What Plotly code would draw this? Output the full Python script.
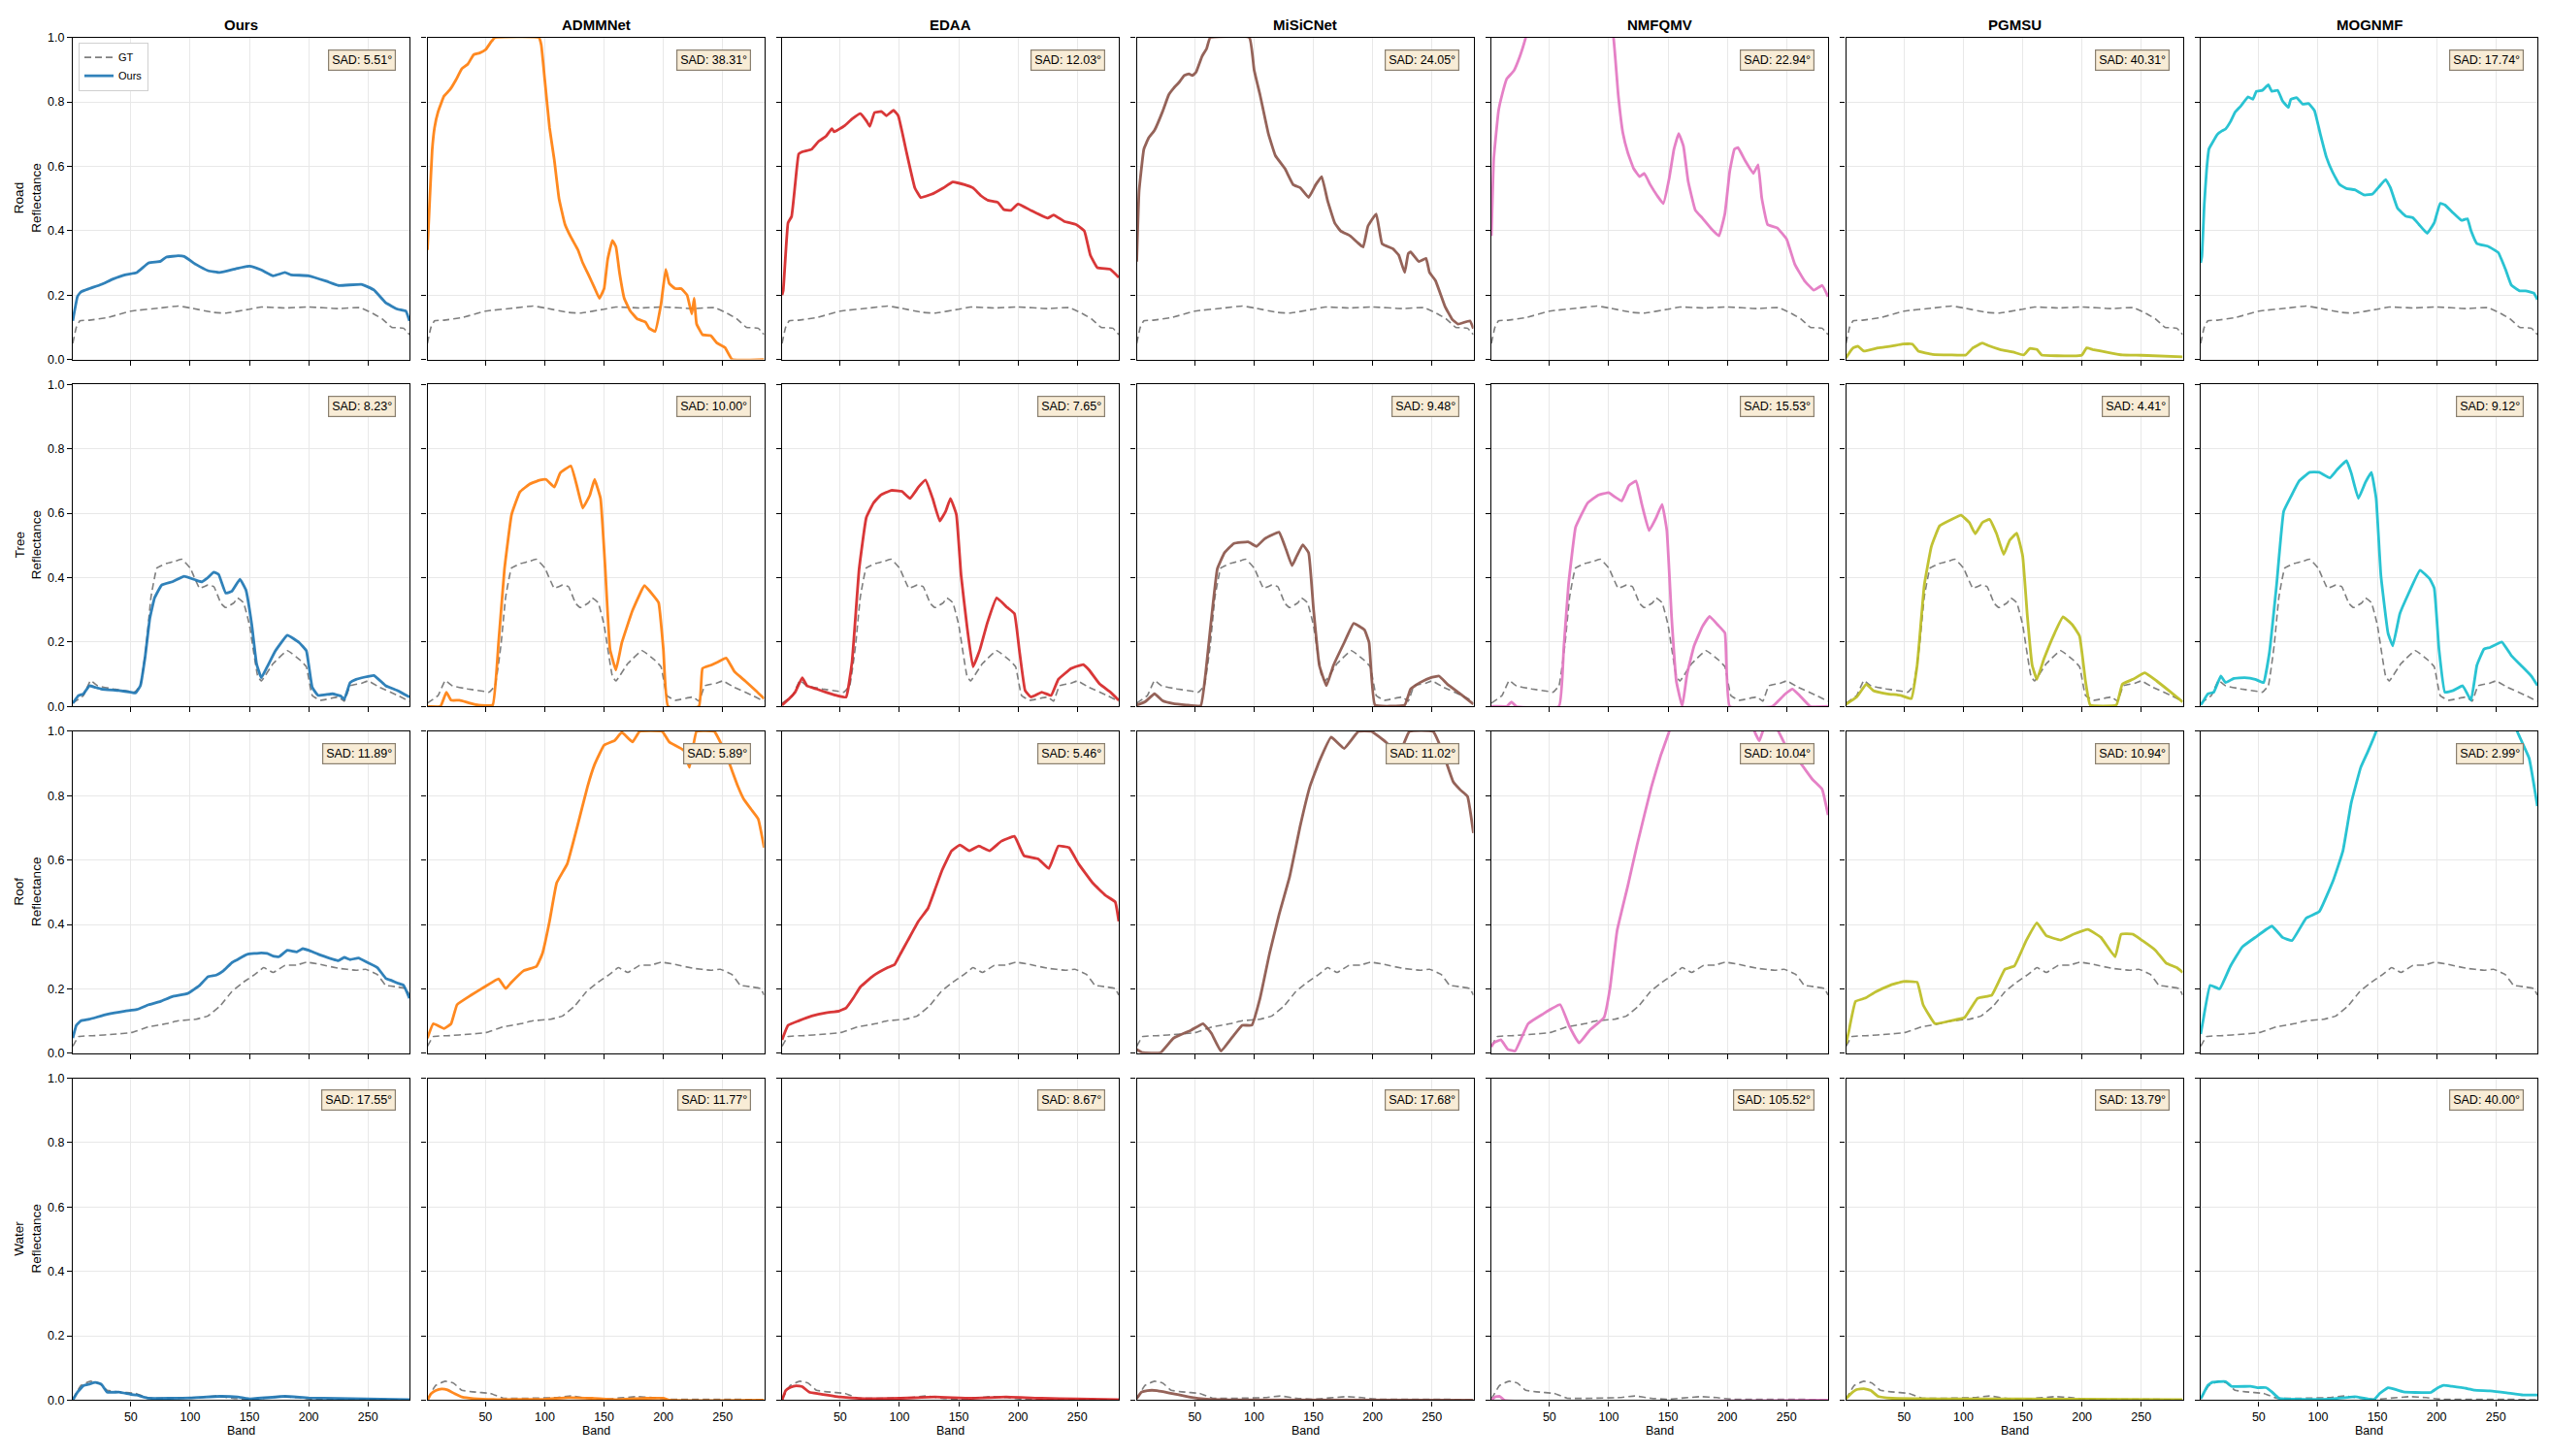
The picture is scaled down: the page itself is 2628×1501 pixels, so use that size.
import plotly.graph_objects as go

W, H = 2628, 1501

METHODS = ["Ours", "ADMMNet", "EDAA", "MiSiCNet", "NMFQMV", "PGMSU", "MOGNMF"]
MATERIALS = ["Road", "Tree", "Roof", "Water"]
COLORS = ["#1f77b4", "#ff7f0e", "#d62728", "#8c564b", "#e377c2", "#bcbd22", "#17becf"]

SAD_ROAD = [5.51, 38.31, 12.03, 24.05, 22.94, 40.31, 17.74]
SAD_TREE = [8.23, 10.00, 7.65, 9.48, 15.53, 4.41, 9.12]
SAD_ROOF = [11.89, 5.89, 5.46, 11.02, 10.04, 10.94, 2.99]
SAD_WATER = [17.55, 11.77, 8.67, 17.68, 105.52, 13.79, 40.00]

X_TICKS = [50, 100, 150, 200, 250]
Y_TICKS = [0.0, 0.2, 0.4, 0.6, 0.8, 1.0]

# ---- ground truth spectra: (band, reflectance) ----
GT_ROAD = [(1,0.05),(4,0.10),(7,0.12),(15,0.122),(30,0.13),(50,0.15),(75,0.16),(90,0.166),(100,0.16),(120,0.146),(130,0.144),(150,0.156),(160,0.163),(180,0.16),(200,0.163),(225,0.158),(243,0.161),(255,0.141),(262,0.126),(270,0.10),(280,0.097),(285,0.077)]
GT_TREE = [(1,0.01),(10,0.034),(16,0.08),(22,0.064),(35,0.054),(50,0.046),(53,0.044),(58,0.064),(63,0.19),(67,0.34),(72,0.43),(80,0.444),(88,0.452),(93,0.457),(100,0.43),(108,0.367),(115,0.377),(120,0.372),(126,0.32),(130,0.307),(137,0.322),(140,0.337),(145,0.322),(150,0.253),(157,0.094),(160,0.079),(170,0.133),(182,0.173),(193,0.143),(198,0.123),(203,0.034),(210,0.019),(225,0.029),(230,0.016),(235,0.064),(245,0.072),(250,0.079),(260,0.059),(275,0.034),(285,0.016)]
GT_ROOF = [(1,0.022),(6,0.052),(20,0.055),(35,0.059),(50,0.064),(65,0.082),(80,0.092),(90,0.101),(105,0.106),(115,0.116),(125,0.146),(135,0.191),(145,0.221),(155,0.246),(162,0.266),(170,0.251),(180,0.273),(190,0.274),(198,0.283),(210,0.276),(225,0.264),(240,0.258),(248,0.261),(258,0.244),(265,0.211),(275,0.206),(282,0.201),(285,0.181)]
GT_WATER = [(1,0.004),(8,0.046),(16,0.059),(23,0.053),(30,0.031),(39,0.026),(54,0.021),(65,0.006),(109,0.008),(122,0.013),(136,0.006),(150,0.003),(177,0.011),(191,0.008),(204,0.003),(259,0.003),(285,0.001)]

# ---- estimated spectra: (band, reflectance) ----
OURS_ROAD = [(1,0.12),(5,0.196),(8,0.21),(15,0.22),(25,0.233),(35,0.25),(45,0.263),(55,0.27),(65,0.30),(75,0.305),(80,0.318),(90,0.322),(95,0.32),(105,0.295),(115,0.276),(125,0.27),(140,0.283),(150,0.29),(160,0.278),(170,0.26),(180,0.27),(185,0.263),(200,0.26),(215,0.243),(225,0.23),(245,0.233),(255,0.216),(265,0.176),(275,0.156),(282,0.15),(285,0.12)]
OURS_TREE = [(1,0.01),(6,0.034),(10,0.039),(15,0.064),(20,0.059),(25,0.054),(40,0.049),(50,0.044),(54,0.042),(58,0.064),(62,0.153),(66,0.273),(70,0.337),(76,0.377),(85,0.387),(95,0.404),(105,0.392),(110,0.387),(114,0.397),(120,0.417),(124,0.41),(130,0.352),(135,0.357),(142,0.395),(147,0.362),(152,0.253),(156,0.133),(160,0.089),(165,0.123),(172,0.173),(182,0.221),(192,0.198),(198,0.173),(203,0.059),(208,0.034),(220,0.039),(227,0.032),(230,0.022),(235,0.074),(240,0.084),(255,0.096),(265,0.064),(275,0.049),(285,0.029)]
OURS_ROOF = [(1,0.047),(4,0.087),(8,0.101),(15,0.106),(30,0.121),(45,0.131),(55,0.136),(65,0.151),(75,0.161),(85,0.176),(98,0.186),(108,0.211),(115,0.238),(122,0.243),(128,0.256),(135,0.281),(140,0.291),(148,0.307),(160,0.312),(165,0.31),(170,0.302),(175,0.3),(182,0.32),(190,0.315),(195,0.325),(200,0.32),(210,0.305),(225,0.288),(230,0.298),(235,0.291),(242,0.296),(250,0.281),(258,0.266),(265,0.233),(270,0.226),(275,0.218),(280,0.211),(285,0.171)]
OURS_WATER = [(1,0.0),(5,0.025),(10,0.045),(15,0.05),(20,0.055),(25,0.05),(30,0.025),(40,0.025),(50,0.018),(55,0.016),(65,0.006),(100,0.007),(125,0.012),(140,0.01),(150,0.004),(180,0.012),(200,0.007),(285,0.002)]

ADMM_ROAD = [(1,0.34),(3,0.5),(5,0.65),(7,0.72),(10,0.77),(15,0.818),(20,0.838),(25,0.868),(30,0.903),(35,0.917),(40,0.947),(45,0.952),(50,0.962),(55,0.988),(58,1.0),(95,1.0),(97,0.977),(100,0.868),(104,0.72),(108,0.62),(112,0.5),(117,0.42),(122,0.38),(128,0.34),(132,0.30),(137,0.262),(142,0.222),(146,0.19),(150,0.22),(153,0.31),(157,0.37),(160,0.35),(163,0.27),(167,0.19),(172,0.151),(178,0.126),(185,0.116),(188,0.097),(193,0.087),(198,0.171),(202,0.28),(205,0.236),(210,0.22),(215,0.22),(220,0.2),(224,0.141),(226,0.19),(228,0.111),(233,0.077),(240,0.074),(245,0.052),(252,0.037),(258,0.0),(285,0.0)]
ADMM_TREE = [(1,0.0),(12,0.0),(17,0.044),(21,0.019),(28,0.019),(36,0.011),(44,0.004),(56,0.004),(61,0.198),(66,0.427),(72,0.596),(79,0.666),(87,0.69),(96,0.703),(101,0.705),(108,0.681),(113,0.725),(122,0.747),(127,0.686),(132,0.616),(138,0.656),(142,0.705),(147,0.646),(151,0.427),(155,0.178),(160,0.113),(165,0.198),(174,0.298),(184,0.375),(191,0.347),(196,0.322),(200,0.178),(204,0.0),(230,0.0),(233,0.118),(240,0.128),(246,0.138),(253,0.15),(260,0.108),(269,0.079),(278,0.049),(285,0.024)]
ADMM_ROOF = [(1,0.047),(6,0.092),(15,0.077),(21,0.092),(26,0.151),(38,0.181),(49,0.206),(61,0.231),(67,0.201),(72,0.221),(82,0.256),(93,0.27),(98,0.31),(104,0.41),(110,0.529),(119,0.589),(127,0.698),(136,0.828),(142,0.897),(150,0.957),(159,0.972),(165,0.997),(174,0.967),(180,1.0),(199,1.0),(205,0.967),(217,0.942),(222,0.888),(228,1.0),(243,1.0),(248,0.967),(255,0.907),(263,0.828),(268,0.788),(274,0.758),(280,0.728),(285,0.639)]
ADMM_WATER = [(1,0.0),(4,0.02),(8,0.03),(13,0.035),(18,0.032),(24,0.02),(30,0.01),(40,0.005),(60,0.002),(100,0.003),(120,0.008),(140,0.006),(160,0.002),(185,0.006),(200,0.006),(205,0.0),(285,0.0)]

EDAA_ROAD = [(1,0.2),(2,0.215),(6,0.424),(9,0.444),(12,0.543),(15,0.638),(18,0.645),(26,0.653),(32,0.678),(38,0.693),(43,0.717),(45,0.707),(54,0.727),(60,0.747),(67,0.764),(72,0.742),(75,0.724),(79,0.767),(85,0.77),(89,0.757),(95,0.774),(99,0.757),(106,0.643),(113,0.533),(118,0.503),(127,0.513),(137,0.533),(145,0.551),(155,0.543),(162,0.533),(169,0.508),(175,0.494),(183,0.488),(188,0.466),(194,0.463),(200,0.483),(211,0.463),(225,0.439),(230,0.449),(239,0.429),(249,0.419),(256,0.399),(261,0.324),(267,0.285),(278,0.28),(285,0.255)]
EDAA_TREE = [(1,0.004),(7,0.024),(12,0.044),(18,0.089),(22,0.064),(30,0.054),(38,0.044),(47,0.034),(55,0.029),(60,0.138),(66,0.427),(72,0.586),(78,0.631),(84,0.656),(93,0.671),(102,0.668),(109,0.646),(116,0.681),(122,0.703),(128,0.646),(134,0.576),(139,0.606),(143,0.646),(148,0.596),(152,0.407),(157,0.248),(162,0.123),(168,0.178),(174,0.258),(182,0.337),(191,0.307),(197,0.288),(201,0.178),(206,0.049),(211,0.029),(220,0.044),(228,0.034),(234,0.084),(245,0.118),(255,0.13),(260,0.113),(269,0.069),(278,0.044),(285,0.019)]
EDAA_ROOF = [(1,0.042),(6,0.087),(15,0.101),(26,0.116),(38,0.126),(49,0.131),(55,0.141),(61,0.171),(67,0.206),(78,0.241),(90,0.266),(96,0.276),(101,0.31),(107,0.35),(116,0.41),(124,0.45),(130,0.509),(136,0.569),(144,0.629),(151,0.647),(159,0.629),(167,0.644),(176,0.629),(186,0.659),(197,0.674),(205,0.614),(217,0.604),(226,0.574),(234,0.644),(243,0.639),(251,0.589),(263,0.529),(274,0.49),(282,0.47),(285,0.41)]
EDAA_WATER = [(1,0.0),(4,0.03),(8,0.04),(13,0.045),(18,0.042),(24,0.025),(32,0.02),(50,0.01),(70,0.005),(100,0.006),(130,0.01),(160,0.006),(190,0.01),(220,0.006),(250,0.004),(285,0.002)]

MISIC_ROAD = [(1,0.304),(3,0.523),(7,0.653),(11,0.688),(16,0.712),(23,0.772),(28,0.822),(32,0.842),(37,0.862),(41,0.882),(45,0.887),(48,0.882),(51,0.892),(56,0.941),(60,0.966),(63,1.0),(96,1.0),(100,0.9),(105,0.822),(112,0.702),(118,0.633),(126,0.593),(133,0.543),(139,0.533),(146,0.503),(152,0.543),(157,0.568),(162,0.493),(168,0.424),(173,0.399),(181,0.384),(187,0.364),(192,0.349),(196,0.414),(203,0.452),(208,0.359),(217,0.344),(222,0.324),(227,0.27),(230,0.329),(232,0.334),(239,0.304),(245,0.314),(248,0.27),(253,0.245),(261,0.165),(267,0.125),(272,0.11),(282,0.12),(285,0.096)]
MISIC_TREE = [(1,0.004),(8,0.014),(16,0.039),(23,0.017),(31,0.009),(43,0.004),(55,0.002),(59,0.099),(63,0.238),(69,0.427),(75,0.477),(83,0.506),(95,0.511),(102,0.497),(109,0.521),(121,0.541),(127,0.487),(132,0.437),(136,0.467),(141,0.502),(146,0.477),(150,0.307),(155,0.128),(161,0.064),(167,0.128),(176,0.198),(184,0.258),(193,0.238),(197,0.198),(202,0.004),(227,0.004),(232,0.054),(240,0.074),(249,0.089),(256,0.094),(263,0.069),(274,0.039),(285,0.007)]
MISIC_ROOF = [(1,0.012),(6,0.002),(21,0.002),(32,0.047),(47,0.072),(57,0.092),(64,0.062),(72,0.007),(82,0.052),(90,0.087),(98,0.087),(105,0.171),(113,0.31),(121,0.43),(130,0.549),(139,0.708),(147,0.828),(155,0.907),(165,0.982),(176,0.947),(188,1.0),(199,1.0),(211,0.967),(222,0.927),(231,1.0),(251,1.0),(259,0.937),(268,0.843),(274,0.818),(280,0.798),(285,0.684)]
MISIC_WATER = [(1,0.005),(5,0.025),(10,0.03),(18,0.03),(25,0.025),(32,0.02),(45,0.01),(60,0.003),(80,0.001),(285,0.0)]

NMF_ROAD = [(1,0.384),(3,0.623),(7,0.772),(10,0.822),(14,0.872),(20,0.897),(25,0.941),(30,1.0),(40,1.15),(55,1.3),(70,1.35),(85,1.3),(98,1.1),(104,1.0),(108,0.822),(112,0.702),(116,0.643),(121,0.593),(126,0.568),(130,0.578),(135,0.543),(141,0.508),(146,0.484),(151,0.563),(155,0.653),(159,0.702),(163,0.663),(167,0.553),(173,0.464),(179,0.439),(187,0.404),(193,0.384),(198,0.454),(202,0.583),(206,0.653),(209,0.658),(215,0.618),(222,0.578),(226,0.605),(229,0.503),(234,0.419),(242,0.409),(250,0.374),(257,0.295),(265,0.245),(273,0.215),(280,0.23),(285,0.195)]
NMF_TREE = [(1,0.0),(7,0.0),(14,0.0),(18,0.014),(22,0.0),(58,0.0),(62,0.178),(66,0.377),(72,0.556),(77,0.596),(82,0.631),(91,0.656),(100,0.664),(105,0.651),(111,0.638),(117,0.686),(123,0.7),(128,0.626),(134,0.546),(140,0.586),(145,0.628),(149,0.546),(153,0.278),(157,0.078),(162,0.0),(166,0.099),(172,0.188),(179,0.248),(185,0.28),(192,0.253),(198,0.228),(202,0.0),(238,0.0),(243,0.017),(249,0.039),(255,0.054),(261,0.034),(270,0.0),(285,0.0)]
NMF_ROOF = [(1,0.02),(3,0.032),(9,0.042),(15,0.012),(21,0.007),(32,0.092),(44,0.121),(59,0.151),(67,0.082),(75,0.032),(84,0.072),(96,0.111),(101,0.201),(107,0.38),(116,0.519),(124,0.649),(136,0.828),(144,0.927),(151,1.0),(165,1.25),(185,1.45),(205,1.35),(218,1.1),(223,1.0),(227,0.97),(232,1.02),(240,1.02),(250,0.95),(262,0.9),(272,0.85),(280,0.82),(285,0.74)]
NMF_WATER = [(1,0.0),(4,0.01),(8,0.012),(12,0.0),(285,0.0)]

PGMSU_ROAD = [(1,0.005),(2,0.011),(7,0.036),(11,0.041),(16,0.026),(28,0.036),(39,0.041),(49,0.048),(57,0.048),(62,0.026),(74,0.016),(89,0.014),(102,0.014),(108,0.036),(116,0.051),(121,0.043),(131,0.031),(142,0.023),(151,0.014),(156,0.034),(162,0.031),(166,0.014),(192,0.011),(200,0.014),(204,0.036),(209,0.031),(223,0.021),(234,0.014),(250,0.013),(285,0.008)]
PGMSU_TREE = [(1,0.005),(2,0.009),(10,0.029),(18,0.069),(24,0.049),(36,0.039),(47,0.034),(56,0.024),(61,0.128),(67,0.377),(73,0.497),(80,0.561),(90,0.581),(98,0.594),(105,0.571),(110,0.536),(116,0.571),(122,0.581),(128,0.536),(134,0.472),(139,0.516),(145,0.538),(150,0.467),(154,0.278),(158,0.128),(162,0.084),(168,0.148),(177,0.228),(184,0.278),(192,0.253),(198,0.218),(203,0.078),(207,0.004),(229,0.004),(234,0.069),(243,0.084),(253,0.104),(263,0.079),(275,0.044),(285,0.014)]
PGMSU_ROOF = [(1,0.03),(3,0.062),(9,0.161),(17,0.171),(26,0.191),(38,0.211),(49,0.223),(61,0.221),(66,0.151),(76,0.092),(89,0.101),(101,0.111),(112,0.171),(124,0.181),(135,0.261),(143,0.271),(153,0.35),(162,0.405),(170,0.365),(182,0.352),(193,0.37),(205,0.385),(216,0.36),(228,0.3),(233,0.37),(243,0.37),(251,0.35),(262,0.32),(271,0.28),(280,0.266),(285,0.251)]
PGMSU_WATER = [(1,0.005),(5,0.02),(10,0.033),(16,0.036),(22,0.03),(28,0.012),(40,0.006),(80,0.004),(150,0.004),(200,0.003),(285,0.002)]

MOG_ROAD = [(1,0.3),(2,0.32),(4,0.48),(6,0.589),(8,0.654),(11,0.674),(15,0.699),(19,0.71),(22,0.716),(26,0.738),(30,0.768),(35,0.788),(41,0.816),(45,0.808),(48,0.833),(53,0.836),(58,0.853),(61,0.833),(66,0.836),(70,0.803),(75,0.783),(77,0.808),(82,0.813),(87,0.793),(92,0.795),(97,0.773),(102,0.699),(107,0.629),(112,0.584),(118,0.544),(124,0.531),(131,0.527),(139,0.511),(146,0.514),(152,0.539),(157,0.559),(161,0.534),(167,0.47),(174,0.445),(180,0.44),(185,0.42),(192,0.392),(198,0.425),(203,0.485),(207,0.48),(214,0.455),(221,0.432),(226,0.437),(229,0.4),(234,0.36),(243,0.352),(252,0.332),(258,0.281),(263,0.231),(270,0.213),(275,0.213),(282,0.206),(285,0.186)]
MOG_TREE = [(1,0.005),(2,0.009),(7,0.039),(12,0.044),(18,0.094),(22,0.074),(29,0.087),(38,0.089),(47,0.084),(54,0.074),(59,0.168),(65,0.377),(71,0.606),(77,0.651),(84,0.7),(93,0.727),(101,0.727),(110,0.71),(116,0.735),(124,0.763),(128,0.725),(134,0.646),(140,0.696),(145,0.727),(149,0.646),(153,0.407),(159,0.228),(163,0.188),(169,0.288),(176,0.348),(186,0.423),(194,0.397),(198,0.367),(202,0.178),(207,0.044),(214,0.049),(222,0.064),(229,0.019),(234,0.128),(240,0.178),(245,0.183),(255,0.2),(263,0.158),(271,0.128),(280,0.094),(285,0.065)]
MOG_ROOF = [(1,0.06),(3,0.101),(9,0.211),(17,0.2),(26,0.27),(36,0.33),(47,0.36),(61,0.395),(70,0.36),(78,0.35),(90,0.42),(101,0.44),(113,0.539),(121,0.629),(128,0.778),(136,0.888),(142,0.937),(149,1.0),(165,1.3),(190,1.6),(215,1.6),(240,1.4),(260,1.1),(268,1.0),(278,0.917),(285,0.768)]
MOG_WATER = [(1,0.005),(2,0.011),(7,0.046),(11,0.056),(22,0.058),(27,0.043),(43,0.043),(49,0.039),(56,0.039),(61,0.026),(67,0.006),(82,0.003),(109,0.003),(131,0.011),(147,0.001),(152,0.021),(159,0.039),(163,0.036),(172,0.026),(182,0.024),(195,0.024),(200,0.036),(206,0.046),(213,0.043),(226,0.036),(232,0.031),(245,0.029),(259,0.023),(273,0.016),(285,0.016)]

GT = {"Road": GT_ROAD, "Tree": GT_TREE, "Roof": GT_ROOF, "Water": GT_WATER}
EST = {
    "Ours": [OURS_ROAD, OURS_TREE, OURS_ROOF, OURS_WATER],
    "ADMMNet": [ADMM_ROAD, ADMM_TREE, ADMM_ROOF, ADMM_WATER],
    "EDAA": [EDAA_ROAD, EDAA_TREE, EDAA_ROOF, EDAA_WATER],
    "MiSiCNet": [MISIC_ROAD, MISIC_TREE, MISIC_ROOF, MISIC_WATER],
    "NMFQMV": [NMF_ROAD, NMF_TREE, NMF_ROOF, NMF_WATER],
    "PGMSU": [PGMSU_ROAD, PGMSU_TREE, PGMSU_ROOF, PGMSU_WATER],
    "MOGNMF": [MOG_ROAD, MOG_TREE, MOG_ROOF, MOG_WATER],
}
SAD = [SAD_ROAD, SAD_TREE, SAD_ROOF, SAD_WATER]

FONT = "Liberation Sans, Arial, sans-serif"

# ---- layout geometry in pixels ----
LEFT0, COL_PITCH, PW = 75, 365.5, 347
TOP0, ROW_PITCH, PH = 32, 361, 335

fig = go.Figure()
layout = dict(
    width=W, height=H,
    margin=dict(l=0, r=0, t=0, b=0),
    paper_bgcolor="white", plot_bgcolor="white",
    showlegend=True,
    font=dict(family=FONT, size=12, color="black"),
)
annotations = []

for r, mat in enumerate(MATERIALS):
    for c, meth in enumerate(METHODS):
        idx = r * 7 + c + 1
        xa = "x" if idx == 1 else f"x{idx}"
        ya = "y" if idx == 1 else f"y{idx}"
        xl = "xaxis" if idx == 1 else f"xaxis{idx}"
        yl = "yaxis" if idx == 1 else f"yaxis{idx}"
        x0 = (LEFT0 + COL_PITCH * c) / W
        x1 = (LEFT0 + COL_PITCH * c + PW) / W
        top = TOP0 + ROW_PITCH * r
        y1 = 1 - top / H
        y0 = 1 - (top + PH) / H
        common = dict(showline=True, linecolor="black", linewidth=1.3, mirror=True,
                      ticks="outside", ticklen=5, tickwidth=1.1, tickcolor="black",
                      showgrid=True, gridcolor="#e8e8e8", gridwidth=1, zeroline=False,
                      tickfont=dict(family=FONT, size=12.5, color="black"))
        layout[xl] = dict(common, domain=[x0, x1], anchor=ya, range=[1, 285],
                          tickvals=X_TICKS, showticklabels=(r == 3))
        layout[yl] = dict(common, domain=[y0, y1], anchor=xa, range=[0, 1],
                          tickvals=Y_TICKS, tickformat=".1f", showticklabels=(c == 0))

        gt = GT[mat]
        fig.add_trace(go.Scatter(
            x=[p[0] for p in gt], y=[p[1] for p in gt], xaxis=xa, yaxis=ya,
            mode="lines", name="GT", showlegend=(idx == 1),
            line=dict(color="#7f7f7f", width=1.6, dash="7px,4px", shape="spline", smoothing=0.3),
            hoverinfo="skip"))
        est = EST[meth][r]
        fig.add_trace(go.Scatter(
            x=[p[0] for p in est], y=[p[1] for p in est], xaxis=xa, yaxis=ya,
            mode="lines", name=meth, showlegend=(idx == 1), opacity=0.92,
            line=dict(color=COLORS[c], width=2.8, shape="spline", smoothing=0.3),
            hoverinfo="skip"))

        annotations.append(dict(
            xref=f"{xa} domain", yref=f"{ya} domain",
            x=1 - 14 / PW, y=1 - 12 / PH, xanchor="right", yanchor="top",
            text=f"SAD: {SAD[r][c]:.2f}°", showarrow=False,
            font=dict(family=FONT, size=12.5, color="black"),
            bgcolor="#f8ecd6", bordercolor="#8a8070", borderwidth=1.2, borderpad=3))

        if r == 0:
            annotations.append(dict(
                xref="paper", yref="paper", x=(x0 + x1) / 2, y=1 - 19 / H,
                xanchor="center", yanchor="middle", text=f"<b>{meth}</b>",
                showarrow=False, font=dict(family=FONT, size=15, color="black")))
        if r == 3:
            annotations.append(dict(
                xref="paper", yref="paper", x=(x0 + x1) / 2, y=1 - 1482 / H,
                xanchor="center", yanchor="middle", text="Band",
                showarrow=False, font=dict(family=FONT, size=12.5, color="black")))
    annotations.append(dict(
        xref="paper", yref="paper", x=29 / W, y=1 - (TOP0 + ROW_PITCH * r + PH / 2) / H,
        xanchor="center", yanchor="middle", textangle=-90,
        text=f"{mat}<br>Reflectance", showarrow=False,
        font=dict(family=FONT, size=13.5, color="black")))

layout["annotations"] = annotations
layout["legend"] = dict(x=81 / W, y=1 - 37 / H, xanchor="left", yanchor="top",
                        bgcolor="white", bordercolor="#d0d0d0", borderwidth=1,
                        font=dict(family=FONT, size=11, color="black"),
                        itemwidth=30, tracegroupgap=0)
fig.update_layout(**layout)
fig.write_html("out.html")
